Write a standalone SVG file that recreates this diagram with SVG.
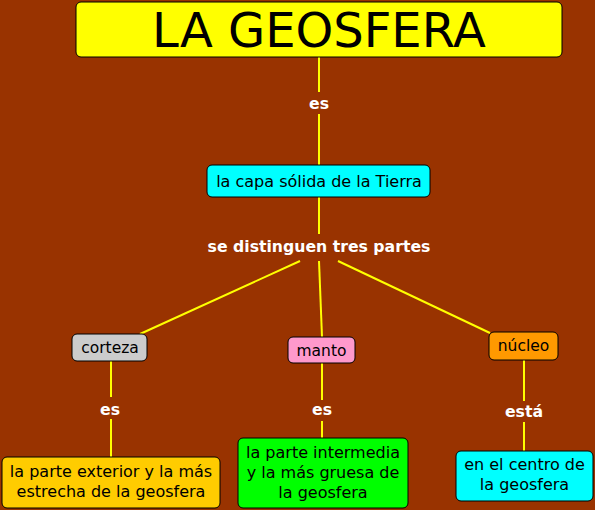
<svg xmlns="http://www.w3.org/2000/svg" width="595" height="510" viewBox="0 0 595 510">
<style>
.n{stroke:#000;stroke-width:1}
.t{font-family:"DejaVu Sans",Verdana,sans-serif;font-size:16px;fill:#000;text-anchor:middle}
.s{font-size:15.5px}
.l{font-family:"DejaVu Sans",Verdana,sans-serif;font-size:15.7px;font-weight:bold;fill:#fff;text-anchor:middle}
.c{stroke:#FFFF00;stroke-width:2;fill:none}
</style>
<rect width="595" height="510" fill="#993300"/>
<g id="connectors">
<line class="c" x1="319" y1="57" x2="319" y2="92"/>
<line class="c" x1="319" y1="114" x2="319" y2="165"/>
<line class="c" x1="319" y1="197" x2="319" y2="234"/>
<line class="c" x1="300" y1="261" x2="140" y2="334"/>
<line class="c" x1="319" y1="261" x2="322" y2="337"/>
<line class="c" x1="338" y1="261" x2="490" y2="333"/>
<line class="c" x1="111" y1="361" x2="111" y2="397"/>
<line class="c" x1="111" y1="419" x2="111" y2="457"/>
<line class="c" x1="322" y1="363" x2="322" y2="400"/>
<line class="c" x1="322" y1="421" x2="322" y2="438"/>
<line class="c" x1="524" y1="360" x2="524" y2="401"/>
<line class="c" x1="524" y1="422" x2="524" y2="451"/>
<text class="l" x="319" y="109">es</text>
<text class="l" x="319" y="252">se distinguen tres partes</text>
<text class="l" x="110" y="415">es</text>
<text class="l" x="322" y="415">es</text>
<text class="l" x="524" y="417">está</text>
</g>
<g id="title">
<rect class="n" x="76" y="2" width="486" height="55" rx="5" fill="#FFFF00"/>
<text class="t" x="319" y="47" style="font-size:48px">LA GEOSFERA</text>
</g>
<g id="capa">
<rect class="n" x="207" y="165" width="223" height="32" rx="5" fill="#00FFFF"/>
<text class="t" x="319" y="187">la capa sólida de la Tierra</text>
</g>
<g id="corteza">
<rect class="n" x="72" y="334" width="75" height="27" rx="5" fill="#CCCCCC"/>
<text class="t s" x="110" y="353">corteza</text>
</g>
<g id="manto">
<rect class="n" x="288" y="337" width="67" height="26" rx="5" fill="#FF99CC"/>
<text class="t s" x="321.5" y="356">manto</text>
</g>
<g id="nucleo">
<rect class="n" x="489" y="332" width="69" height="28" rx="5" fill="#FF9900"/>
<text class="t s" x="523.5" y="351">núcleo</text>
</g>
<g id="exterior">
<rect class="n" x="2" y="457" width="218" height="51" rx="5" fill="#FFCC00"/>
<text class="t" x="111" y="477">la parte exterior y la más</text>
<text class="t" x="111" y="497">estrecha de la geosfera</text>
</g>
<g id="intermedia">
<rect class="n" x="238" y="438" width="170" height="70" rx="5" fill="#00FF00"/>
<text class="t" x="323" y="458">la parte intermedia</text>
<text class="t" x="323" y="478">y la más gruesa de</text>
<text class="t" x="323" y="498">la geosfera</text>
</g>
<g id="centro">
<rect class="n" x="456" y="451" width="137" height="50" rx="5" fill="#00FFFF"/>
<text class="t" x="524.5" y="470">en el centro de</text>
<text class="t" x="524.5" y="490">la geosfera</text>
</g>
</svg>
